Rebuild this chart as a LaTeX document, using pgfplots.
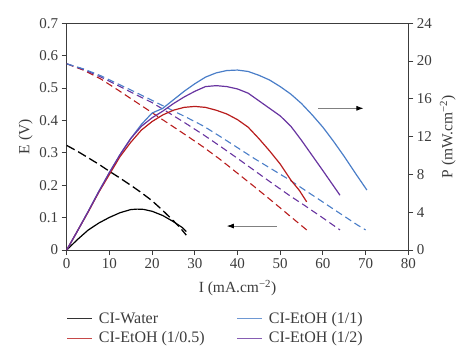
\documentclass[border=0pt]{standalone}
\usepackage{fontspec}
\setmainfont{Liberation Serif}
\usepackage{pgfplots}
\pgfplotsset{compat=1.18}
\usetikzlibrary{arrows.meta}
\definecolor{cblue}{RGB}{74,126,200}
\definecolor{cred}{RGB}{184,28,28}
\definecolor{cpurple}{RGB}{104,52,160}
\definecolor{axgray}{RGB}{60,60,60}
\pgfplotsset{
  every tick label/.append style={font=\fontsize{15}{17}\selectfont, text=axgray},
  every axis label/.append style={font=\fontsize{15.5}{18}\selectfont, text=axgray},
  /pgf/number format/assume math mode=true,
}
\begin{document}
\begin{tikzpicture}[x=1pt,y=1pt]
\begin{axis}[
  scale only axis, width=341.6pt, height=226.7pt,
  xmin=0, xmax=80, ymin=0, ymax=0.7,
  xtick={0,10,...,80}, ytick={0,0.1,0.2,0.3,0.4,0.5,0.6,0.7},
  yticklabel style={/pgf/number format/fixed, /pgf/number format/precision=1},
  tick pos=left, tick align=outside, major tick length=5pt,
  axis line style={draw=axgray, line width=0.9pt},
  tick style={draw=axgray, line width=0.8pt},
  xlabel={I (mA.cm\textsuperscript{−2})},
  ylabel={E (V)},
  xlabel style={at={(axis description cs:0.5,-0.168)}, anchor=center},
  ylabel style={at={(axis description cs:-0.12,0.5)}, anchor=center, rotate=0},
  every axis plot/.append style={line width=1.1pt, dash pattern=on 7pt off 4pt},
]
% E curves (dashed)
\addplot[black, line width=1.3pt, dash pattern=on 9pt off 4pt] coordinates {
(0,0.323)(2.5,0.305)(5,0.285)(7.5,0.265)(10,0.243)(12.5,0.222)(15,0.2)(17.5,0.177)(20,0.152)(22.5,0.122)(25,0.09)(26.5,0.07)(28,0.046)};
\addplot[cred] coordinates {
(0,0.575)(4,0.555)(8,0.528)(12,0.494)(16,0.459)(20,0.424)(24,0.389)(28,0.354)(32,0.318)(36,0.279)(40,0.237)(44,0.195)(48,0.152)(52,0.108)(56.2,0.062)};
\addplot[cpurple] coordinates {
(0,0.575)(4,0.557)(8,0.534)(12,0.508)(16,0.481)(20,0.455)(24,0.423)(28,0.39)(32,0.356)(36,0.32)(40,0.283)(44,0.245)(48,0.207)(52,0.17)(56,0.135)(60,0.099)(64,0.062)};
\addplot[cblue] coordinates {
(0,0.575)(4,0.559)(8,0.538)(12,0.513)(16,0.488)(20,0.462)(24,0.436)(28,0.41)(32,0.383)(36,0.35)(40,0.316)(44,0.282)(48,0.25)(52,0.218)(56,0.183)(60,0.148)(64,0.113)(68,0.078)(70,0.062)};
% arrows
\draw[gray, line width=0.8pt, -{Latex[black,length=7pt,width=5pt]}] (axis cs:49.2,0.074) -- (axis cs:37.5,0.074);
\draw[gray, line width=0.8pt, -{Latex[black,length=7pt,width=5pt]}] (axis cs:58.9,0.4375) -- (axis cs:69.5,0.4375);
\end{axis}
\begin{axis}[
  scale only axis, width=341.6pt, height=226.7pt,
  xmin=0, xmax=80, ymin=0, ymax=24,
  axis x line=none, axis y line*=right,
  ytick={0,4,...,24},
  tick align=outside, major tick length=5pt,
  axis line style={draw=axgray, line width=0.9pt},
  tick style={draw=axgray, line width=0.8pt},
  ylabel={P (mW.cm\textsuperscript{−2})},
  ylabel style={at={(axis description cs:1.116,0.5)}, anchor=center, rotate=0},
  every axis plot/.append style={line width=1.2pt},
  legend columns=2,
  legend style={at={(axis description cs:0,-0.265)}, anchor=north west, draw=none, fill=none,
    inner sep=0pt, font=\fontsize{16}{19}\selectfont, text=axgray,
    nodes={inner sep=2pt},
    /tikz/every even column/.append style={column sep=30pt},
    /tikz/every odd column/.append style={column sep=4pt},
    row sep=3pt},
  legend image code/.code={\draw[#1, line width=1.1pt, opacity=0.8] (0pt,0pt) -- (25pt,0pt);},
  legend cell align=left,
]
\addplot[black] coordinates {
(0,0)(2.5,1.1)(5,2.1)(7.5,2.85)(10,3.45)(12.5,3.95)(15,4.28)(16.5,4.33)(18,4.3)(20,4.1)(22.5,3.65)(25,3.0)(27,2.4)(28,1.95)};
\addlegendentry{CI-Water}
\addplot[cblue] coordinates {
(0,0)(2.5,2.0)(5,4.05)(7.5,6.2)(10,8.2)(12.5,10.1)(15,11.8)(17.5,13.3)(20,14.5)(22.5,15.0)(25,15.9)(27.5,16.8)(30,17.6)(32.5,18.3)(35,18.75)(37.5,19.0)(40,19.05)(42.5,18.9)(45,18.5)(47.5,18.0)(50,17.3)(52.5,16.5)(55,15.5)(57.5,14.3)(60,13.0)(62.5,11.5)(65,9.9)(67.5,8.2)(70.3,6.35)};
\addlegendentry{CI-EtOH (1/1)}
\addplot[cred] coordinates {
(0,0)(2.5,2.0)(5,4.0)(7.5,6.1)(10,8.0)(12.5,9.9)(15,11.4)(17.5,12.7)(20,13.6)(22.5,14.3)(25,14.8)(27.5,15.1)(30,15.2)(32.5,15.1)(35,14.8)(37.5,14.4)(40,13.8)(42.5,13.0)(45,11.8)(47.5,10.5)(50,9.1)(52.5,7.4)(54.5,6.3)(56.2,5.1)};
\addlegendentry{CI-EtOH (1/0.5)}
\addplot[cpurple] coordinates {
(0,0)(2.5,2.0)(5,4.05)(7.5,6.15)(10,8.2)(12.5,10.1)(15,11.8)(17.5,13.1)(20,14.0)(22.5,14.7)(25,15.5)(27.5,16.2)(30,16.8)(32.5,17.3)(35,17.4)(37.5,17.3)(40,17.05)(42.5,16.6)(45,15.8)(47.5,15.0)(50,14.2)(52.5,13.1)(55,11.6)(57.5,10.0)(60,8.4)(62,7.1)(64,5.8)};
\addlegendentry{CI-EtOH (1/2)}
\end{axis}
\pgfresetboundingbox
\path[use as bounding box] (-66.7pt,-112pt) rectangle (407.3pt,250pt);
\end{tikzpicture}
\end{document}
